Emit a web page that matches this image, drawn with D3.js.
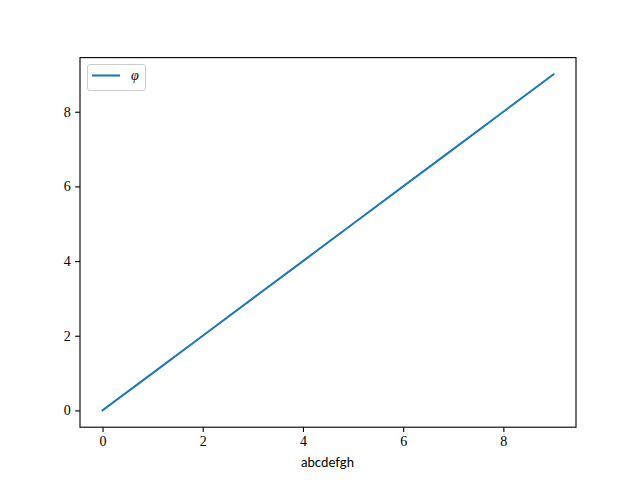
<!DOCTYPE html>
<html><head><meta charset="utf-8">
<script src="https://cdn.jsdelivr.net/npm/d3@7"></script>
<style>body{margin:0;background:#fff}</style>
</head><body>
<script>
const xValues = [0,1,2,3,4,5,6,7,8,9];
const yValues = [0,1,2,3,4,5,6,7,8,9];
const xTicks = [0,2,4,6,8];
const yTicks = [0,2,4,6,8];
const seriesName = "φ";
const xLabel = "abcdefgh";

const W=640,H=480, L=80, R=576, T=57.6, B=427.2;
const svg=d3.select("body").append("svg").attr("width",W).attr("height",H);
const x=d3.scaleLinear().domain([-0.45,9.45]).range([L,R]);
const y=d3.scaleLinear().domain([-0.45,9.45]).range([B,T]);
const serif="'Liberation Serif','DejaVu Serif',serif";

const line=d3.line().x((d,i)=>x(xValues[i])).y(d=>y(d));
svg.append("path").datum(yValues).attr("d",line).attr("fill","none")
  .attr("stroke","#1f77b4").attr("stroke-width",2.08).attr("stroke-linecap","square");

const xa=svg.append("g").attr("transform",`translate(0,${B})`)
  .call(d3.axisBottom(x).tickValues(xTicks).tickSize(4.86).tickPadding(4.5).tickFormat(d3.format("d")));
const ya=svg.append("g").attr("transform",`translate(${L},0)`)
  .call(d3.axisLeft(y).tickValues(yTicks).tickSize(4.86).tickPadding(4.5).tickFormat(d3.format("d")));
[xa,ya].forEach(a=>{a.select(".domain").remove();
  a.selectAll("line").attr("stroke","#000").attr("stroke-width",1.11);
  a.selectAll("text").attr("font-family",serif).attr("font-size",14).attr("fill","#000");});

svg.append("rect").attr("x",L).attr("y",T).attr("width",R-L).attr("height",B-T)
  .attr("fill","none").attr("stroke","#000").attr("stroke-width",1.11);

svg.append("text").attr("x",(L+R)/2 - 0.5).attr("y",467).attr("text-anchor","middle")
  .attr("font-family","Lato,sans-serif").attr("font-size",13.2).text(xLabel);

const lg=svg.append("g");
lg.append("rect").attr("x",87.5).attr("y",64.5).attr("width",58).attr("height",26).attr("rx",2.5)
  .attr("fill","#fff").attr("fill-opacity",0.8).attr("stroke","#ccc").attr("stroke-width",1);
lg.append("line").attr("x1",92).attr("x2",120).attr("y1",75.5).attr("y2",75.5)
  .attr("stroke","#1f77b4").attr("stroke-width",2.08);
lg.append("text").attr("x",131).attr("y",80).attr("font-family",serif).attr("font-style","italic")
  .attr("font-size",14).text(seriesName);
</script>
</body></html>
